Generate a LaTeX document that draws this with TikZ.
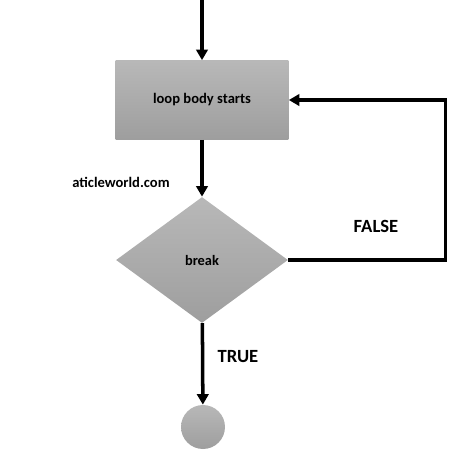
\documentclass[tikz,border=0pt]{standalone}
\usepackage{fontspec}
\setmainfont{Carlito}
\usetikzlibrary{shapes.geometric,arrows.meta,positioning}

\definecolor{boxtop}{RGB}{184,184,184}
\definecolor{boxbot}{RGB}{158,158,158}

\begin{document}
\begin{tikzpicture}[x=0.02cm, y=-0.02cm, every node/.style={align=center, font=\bfseries},
  flow/.style={line width=2pt, -{Triangle[length=6pt,width=6.5pt]}},
  grayfill/.style={top color=boxtop, bottom color=boxbot}]
\useasboundingbox (0,0) rectangle (474,457);

% Shapes
\coordinate (in) at (202,0);
\node[grayfill, minimum width=3.46cm, minimum height=1.58cm, font=\bfseries\fontsize{8.3}{10}\selectfont] (body) at (202,100) {loop body starts};
\node[grayfill, diamond, aspect=1.37, inner sep=0pt, minimum width=3.44cm, minimum height=2.52cm, font=\bfseries\fontsize{8.2}{10}\selectfont] (brk) at (202,260) {break};
\node[grayfill, circle, minimum size=0.88cm, inner sep=0pt] (stop) at (203,427) {};

% Labels
\node[font=\bfseries\fontsize{8.3}{10}\selectfont] (site) at (121,182) {aticleworld.com};
\node[font=\bfseries\fontsize{10.6}{12}\selectfont] (lfalse) at (376,226) {FALSE};
\node[font=\bfseries\fontsize{10.6}{12}\selectfont] (ltrue) at (238,357) {TRUE};

% Arrows
\draw[flow] (in) -- (body);
\draw[flow] (body) -- (brk);
\draw[flow] (brk) -- (stop);
\draw[flow] (brk.east) -- ++(157,0) |- (body.east);
\end{tikzpicture}
\end{document}
